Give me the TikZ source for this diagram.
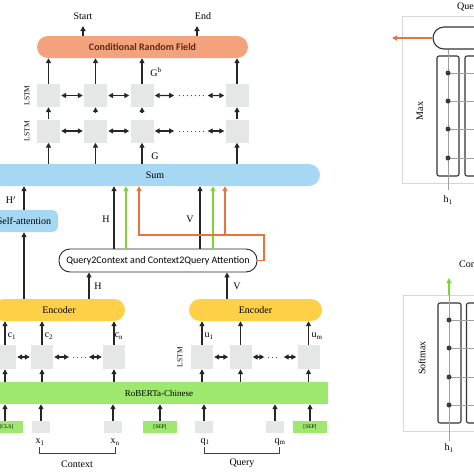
\documentclass[tikz,border=0pt]{standalone}
\usepackage{fontspec}
\setmainfont{Liberation Serif}
\newfontfamily\calfont{Carlito}
\usetikzlibrary{arrows.meta,calc}
\definecolor{crfor}{RGB}{243,162,124}
\definecolor{crftext}{RGB}{92,42,22}
\definecolor{sumblue}{RGB}{166,216,244}
\definecolor{encyellow}{RGB}{253,208,72}
\definecolor{robgreen}{RGB}{158,232,112}
\definecolor{cellgray}{RGB}{229,231,231}
\definecolor{oline}{RGB}{232,116,58}
\definecolor{gline}{RGB}{126,214,50}
\definecolor{framegray}{RGB}{215,215,215}
\definecolor{linegray}{RGB}{160,160,160}
\definecolor{dotgray}{RGB}{60,60,60}
\tikzset{
  tip/.tip={Triangle[length=5pt,width=5pt]},
  arr/.style={-tip, line width=1.3pt, black!85},
  darr/.style={tip-tip, line width=1.3pt, black!85, shorten <=1pt, shorten >=1pt},
  oarr/.style={-tip, line width=1.2pt, oline},
  garr/.style={-tip, line width=1.2pt, gline},
  dots/.style={line width=1pt, black!70, dash pattern=on 1pt off 3pt},
  cell/.style={fill=cellgray, minimum width=23pt, minimum height=23pt, inner sep=0pt},
  lcell/.style={fill=cellgray, minimum width=22pt, minimum height=24pt, inner sep=0pt},
  pill/.style={rounded corners=11pt, inner sep=0pt, minimum height=22pt},
  lbl/.style={inner sep=0pt, font=\fontsize{10}{12}\selectfont},
  slbl/.style={inner sep=0pt, font=\fontsize{7.5}{9}\selectfont, rotate=90},
  tok/.style={inner sep=0pt, minimum height=12pt, font=\fontsize{5.5}{6}\selectfont},
  col/.style={draw=black!80, line width=1.1pt, rounded corners=2pt},
  dotc/.style={circle, fill=dotgray, minimum size=5pt, inner sep=0pt}
}
\begin{document}
\begin{tikzpicture}[x=1pt,y=-1pt]
\useasboundingbox (0,0) rectangle (474,474);

% ---------- CRF ----------
\node[pill, fill=crfor, minimum width=211pt, font=\calfont\bfseries\fontsize{10}{12}\selectfont, text=crftext] (crf) at (142.5,47) {Conditional Random Field};
\node[lbl] (start) at (83,16) {Start};
\node[lbl] (end) at (203,16) {End};
\coordinate (sa) at (83,26);
\coordinate (ea) at (197,26);
\draw[arr] (crf.north -| sa) -- (sa);
\draw[arr] (crf.north -| ea) -- (ea);

% ---------- upper BiLSTM ----------
\foreach \i/\x in {1/48.5,2/95.5,3/142,4/237} {
  \node[cell] (a\i) at (\x,95.5) {};
  \node[cell] (b\i) at (\x,131) {};
}
\node[slbl] (l1) at (27,95.5) {LSTM};
\node[slbl] (l2) at (27,131) {LSTM};
\foreach \i in {1,...,4} {
  \draw[arr] (a\i.north) -- (a\i.north |- crf.south);
}
\draw[arr] (b1.north) -- (a1.south);
\draw[arr] (b4.north) -- (a4.south);
\draw[arr] ([yshift=-5pt]a2.south) -- (a2.south);
\draw[arr] ([yshift=-5pt]a3.south) -- (a3.south);
\foreach \r in {a,b} {
  \draw[darr] (\r1.east) -- (\r2.west);
  \draw[darr] (\r2.east) -- (\r3.west);
  \draw[darr] (\r3.east) -- ($(\r3.east)!0.30!(\r4.west)$);
  \draw[dots] ($(\r3.east)!0.35!(\r4.west)$) -- ($(\r3.east)!0.70!(\r4.west)$);
  \draw[darr] ($(\r3.east)!0.74!(\r4.west)$) -- (\r4.west);
}
\node[lbl] (gb) at (156,72) {G\textsuperscript{b}};
\node[lbl] (g) at (155,156) {G};

% ---------- Sum ----------
\node[pill, fill=sumblue, minimum width=330pt, font=\fontsize{10}{12}\selectfont] (sum) at (155,175) {Sum};
\foreach \i in {1,...,4} {
  \draw[arr] (b\i.south |- sum.north) -- (b\i.south);
}

% ---------- Self-attention ----------
\node[fill=sumblue, rounded corners=6pt, minimum width=68pt, minimum height=22pt, inner sep=0pt, font=\fontsize{10}{12}\selectfont] (self) at (24,221) {Self-attention};
\draw[arr] (self.north) -- (self.north |- sum.south);
\node[lbl] (hp) at (11,200) {H$'$};

% ---------- Attention ----------
\node[draw=black!85, line width=0.9pt, rounded corners=11pt, fill=white, minimum width=198pt, minimum height=23pt, inner sep=0pt, font=\calfont\fontsize{10}{12}\selectfont] (att) at (158,260.5) {Query2Context and Context2Query Attention};
\coordinate (xh) at (114,0);
\coordinate (xg1) at (126,0);
\coordinate (xo1) at (139,0);
\coordinate (xv) at (200,0);
\coordinate (xg2) at (213,0);
\coordinate (xo2) at (225,0);
\coordinate (oc) at (264,235);
\draw[arr] (att.north -| xh) -- (sum.south -| xh);
\draw[garr] (att.north -| xg1) -- (sum.south -| xg1);
\draw[arr] (att.north -| xv) -- (sum.south -| xv);
\draw[garr] (att.north -| xg2) -- (sum.south -| xg2);
\draw[oarr] (att.east) -| (oc) -- (oc -| xo1) -- (sum.south -| xo1);
\draw[oarr] (oc -| xo2) -- (sum.south -| xo2);
\node[lbl] (lh) at (106,219) {H};
\node[lbl] (lv) at (190,219) {V};

% ---------- Encoders ----------
\node[pill, fill=encyellow, minimum width=132pt, font=\fontsize{10}{12}\selectfont] (encL) at (59,310) {Encoder};
\node[pill, fill=encyellow, minimum width=133pt, font=\fontsize{10}{12}\selectfont] (encR) at (255.5,310) {Encoder};
\coordinate (xh2) at (89,0);
\coordinate (xv2) at (227,0);
\draw[arr] (encL.north -| xh2) -- (att.south -| xh2);
\draw[arr] (encR.north -| xv2) -- (att.south -| xv2);
\draw[arr] (encL.north -| self) -- (self.south);
\node[lbl] (lh2) at (98,286) {H};
\node[lbl] (lv2) at (237,286) {V};

% ---------- lower LSTMs ----------
\node[lcell] (lc1) at (5,357) {};
\node[lcell] (lc2) at (42,357) {};
\node[lcell] (lc3) at (114,357) {};
\node[lcell] (rc1) at (202,357) {};
\node[lcell] (rc2) at (240.5,357) {};
\node[lcell] (rc3) at (308.5,357) {};
\node[slbl] (l3) at (180,357) {LSTM};

% ---------- RoBERTa ----------
\node[fill=robgreen, minimum width=338pt, minimum height=22pt, inner sep=0pt, font=\fontsize{9}{11}\selectfont] (rob) at (159,393) {RoBERTa-Chinese};

\foreach \n in {lc1,lc2,lc3} {
  \draw[arr] (\n.north) -- (\n.north |- encL.south);
  \draw[arr] (\n.south |- rob.north) -- (\n.south);
}
\foreach \n in {rc1,rc2,rc3} {
  \draw[arr] (\n.north) -- (\n.north |- encR.south);
  \draw[arr] (\n.south |- rob.north) -- (\n.south);
}
\draw[darr] (lc1.east) -- (lc2.west);
\draw[darr] (lc2.east) -- ($(lc2.east)!0.34!(lc3.west)$);
\draw[dots] ($(lc2.east)!0.40!(lc3.west)$) -- ($(lc2.east)!0.66!(lc3.west)$);
\draw[darr] ($(lc2.east)!0.70!(lc3.west)$) -- (lc3.west);
\draw[darr] (rc1.east) -- (rc2.west);
\draw[darr] (rc2.east) -- ($(rc2.east)!0.30!(rc3.west)$);
\draw[dots] ($(rc2.east)!0.36!(rc3.west)$) -- ($(rc2.east)!0.62!(rc3.west)$);
\draw[darr] ($(rc2.east)!0.68!(rc3.west)$) -- (rc3.west);

\node[lbl] (c1) at (12,336) {c\textsubscript{1}};
\node[lbl] (c2) at (49,336) {c\textsubscript{2}};
\node[lbl] (cn) at (119,336) {c\textsubscript{n}};
\node[lbl] (u1) at (209,336) {u\textsubscript{1}};
\node[lbl] (um) at (317,336) {u\textsubscript{m}};

% ---------- tokens ----------
\node[tok, fill=robgreen, minimum width=33pt] (cls) at (6.5,427) {[CLS]};
\node[tok, fill=cellgray, minimum width=18pt] (x1) at (41,427) {};
\node[tok, fill=cellgray, minimum width=18pt] (xn) at (113,427) {};
\node[tok, fill=robgreen, minimum width=34pt] (sep1) at (160,427) {[SEP]};
\node[tok, fill=cellgray, minimum width=18pt] (q1) at (204,427) {};
\node[tok, fill=cellgray, minimum width=18pt] (qm) at (275,427) {};
\node[tok, fill=robgreen, minimum width=34pt] (sep2) at (310,427) {[SEP]};
\foreach \n in {x1,xn,sep1,q1,qm,sep2} {
  \draw[arr] (\n.north) -- (\n.north |- rob.south);
}
\coordinate (clsx) at (5,0);
\draw[arr] (cls.north -| clsx) -- (rob.south -| clsx);

\node[lbl] (lx1) at (40,442) {x\textsubscript{1}};
\node[lbl] (lxn) at (115,442) {x\textsubscript{n}};
\node[lbl] (lq1) at (205,442) {q\textsubscript{1}};
\node[lbl] (lqm) at (280,442) {q\textsubscript{m}};
\draw[line width=0.9pt, black!75] (39,447) -- (39,453) -- (115,453) -- (115,447);
\draw[line width=0.9pt, black!75] (204,447) -- (204,453) -- (279,453) -- (279,447);
\node[lbl] (ctx) at (77,464) {Context};
\node[lbl] (qry) at (242,463) {Query};

% ---------- right panel: top ----------
\draw[framegray, line width=0.8pt] (480,16) -- (402,16) -- (402,183) -- (480,183);
\node[lbl, anchor=west] (qtitle) at (457,7) {Query2Context};
\node[draw=black!80, line width=1.1pt, fill=white, rounded corners=11pt, minimum width=74pt, minimum height=22pt, inner sep=0pt] (qpill) at (470,38) {};
\coordinate (qout) at (392,38);
\draw[oarr] (qpill.west) -- (qout);
\node[col, minimum width=22pt, minimum height=120pt, inner sep=0pt] (qcol1) at (448,116) {};
\node[col, minimum width=22pt, minimum height=120pt, inner sep=0pt] (qcol2) at (476,116) {};
\coordinate (qh) at (448,190);
\draw[linegray, line width=0.8pt] (qpill.south -| qh) -- (qh);
\foreach \y in {73,101,129,158} {
  \draw[linegray, line width=0.8pt] (448,\y) -- (480,\y);
  \node[dotc] at (448,\y) {};
}
\node[lbl, rotate=90] (max) at (420,111) {Max};
\node[lbl] (qh1) at (448,200) {h\textsubscript{1}};

% ---------- right panel: bottom ----------
\draw[framegray, line width=0.8pt] (480,295) -- (403,295) -- (403,431) -- (480,431);
\node[lbl, anchor=west] (ctitle) at (459,265) {Context2Query};
\node[col, minimum width=23pt, minimum height=120pt, inner sep=0pt] (ccol1) at (449.5,363) {};
\node[col, minimum width=23pt, minimum height=120pt, inner sep=0pt] (ccol2) at (478,363) {};
\coordinate (ctop) at (449,295);
\coordinate (cout) at (449,278);
\coordinate (cbot) at (449,441);
\draw[linegray, line width=0.8pt] (cbot) -- (ctop);
\draw[garr] (ctop) -- (cout);
\foreach \y in {320,348,377,405} {
  \draw[linegray, line width=0.8pt] (449,\y) -- (480,\y);
  \node[dotc] at (449,\y) {};
}
\node[lbl, rotate=90] (smax) at (422,358) {Softmax};
\node[lbl] (ch1) at (449,448) {h\textsubscript{1}};
\end{tikzpicture}
\end{document}
